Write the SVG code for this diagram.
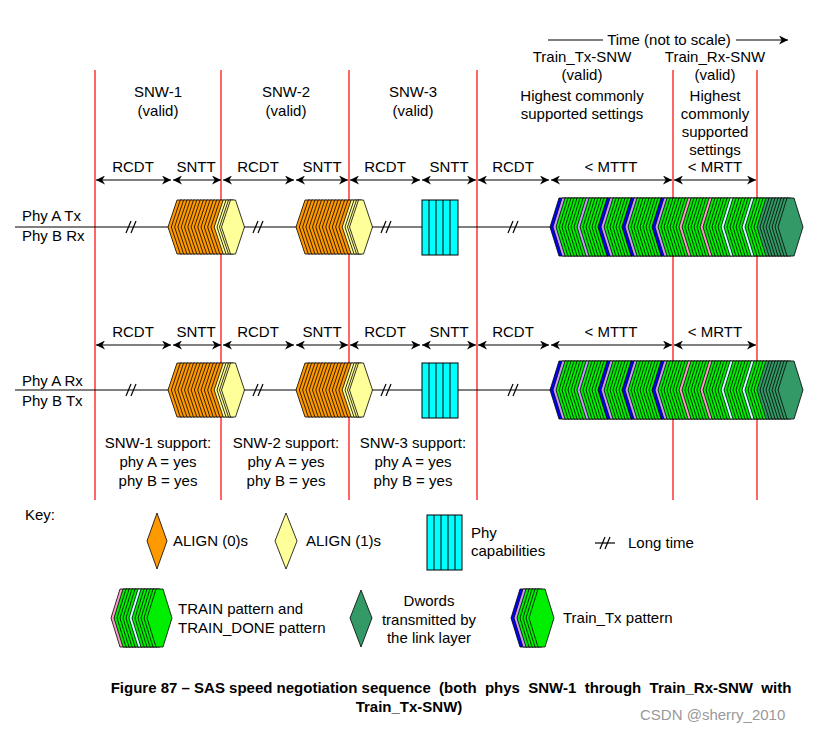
<svg xmlns="http://www.w3.org/2000/svg" xmlns:xlink="http://www.w3.org/1999/xlink" width="838" height="735" viewBox="0 0 838 735">
<style>
text{font-family:"Liberation Sans",Arial,sans-serif;font-size:15px;fill:#000}
.m{text-anchor:middle}
.cap{font-weight:bold;font-size:15px}
.red{stroke:#f33;stroke-width:1.5}
.ln{stroke:#000;stroke-width:1.2;fill:none}
.dim{stroke:#000;stroke-width:1;marker-start:url(#a);marker-end:url(#a)}
.h{stroke:#000;stroke-width:0.8}
</style>
<defs>
<marker id="a" viewBox="0 0 10 10" refX="10" refY="5" markerWidth="9" markerHeight="9" orient="auto-start-reverse" markerUnits="userSpaceOnUse"><path d="M0,0 L10,5 L0,10 L3,5 z" fill="#000"/></marker>
<polygon id="hx" points="0,0 9,-27 14,-27 23,0 14,27 9,27" class="h"/>
<polygon id="hs" points="0,0 9,-29 16,-29 25,0 16,29 9,29" class="h"/>
<g id="lt"><line x1="-4" y1="6" x2="1" y2="-6" class="ln"/><line x1="1" y1="6" x2="6" y2="-6" class="ln"/></g>
<g id="align">
<use href="#hx" x="0" fill="#f90"/><use href="#hx" x="3.3" fill="#f90"/><use href="#hx" x="6.6" fill="#f90"/><use href="#hx" x="9.9" fill="#f90"/><use href="#hx" x="13.2" fill="#f90"/><use href="#hx" x="16.5" fill="#f90"/><use href="#hx" x="19.8" fill="#f90"/><use href="#hx" x="23.1" fill="#f90"/><use href="#hx" x="26.4" fill="#f90"/><use href="#hx" x="29.7" fill="#f90"/><use href="#hx" x="33" fill="#f90"/><use href="#hx" x="36.3" fill="#f90"/><use href="#hx" x="39.6" fill="#f90"/><use href="#hx" x="42.9" fill="#f90"/>
<use href="#hx" x="46.2" fill="#ff9"/><use href="#hx" x="49" fill="#ff9"/><use href="#hx" x="51.5" fill="#ff9"/><use href="#hx" x="53.5" fill="#ff9"/>
</g>
<g id="phy"><rect x="0" y="-27" width="36" height="55" fill="#0ff" stroke="#000"/><path d="M7,-27v55M14,-27v55M21,-27v55M28,-27v55" stroke="#000" fill="none"/></g>
<g id="train">
<use href="#hs" x="0" fill="#00f"/><use href="#hs" x="3" fill="#c9f"/><use href="#hs" x="6" fill="#0e0"/><use href="#hs" x="9" fill="#0e0"/><use href="#hs" x="12" fill="#0e0"/><use href="#hs" x="15" fill="#0e0"/><use href="#hs" x="18" fill="#0e0"/><use href="#hs" x="21" fill="#0e0"/><use href="#hs" x="24" fill="#0e0"/><use href="#hs" x="27" fill="#c9f"/><use href="#hs" x="30" fill="#0e0"/><use href="#hs" x="33" fill="#0e0"/><use href="#hs" x="36" fill="#0e0"/><use href="#hs" x="39" fill="#0e0"/><use href="#hs" x="42" fill="#0e0"/><use href="#hs" x="45" fill="#0e0"/><use href="#hs" x="48" fill="#00f"/><use href="#hs" x="51" fill="#c9f"/><use href="#hs" x="54" fill="#0e0"/><use href="#hs" x="57" fill="#0e0"/><use href="#hs" x="60" fill="#0e0"/><use href="#hs" x="63" fill="#0e0"/><use href="#hs" x="66" fill="#0e0"/><use href="#hs" x="69" fill="#0e0"/><use href="#hs" x="72" fill="#00f"/><use href="#hs" x="75" fill="#c9f"/><use href="#hs" x="78" fill="#0e0"/><use href="#hs" x="81" fill="#0e0"/><use href="#hs" x="84" fill="#0e0"/><use href="#hs" x="87" fill="#0e0"/><use href="#hs" x="90" fill="#0e0"/><use href="#hs" x="93" fill="#0e0"/><use href="#hs" x="96" fill="#0e0"/><use href="#hs" x="99" fill="#0e0"/><use href="#hs" x="102" fill="#00f"/><use href="#hs" x="105" fill="#c9f"/><use href="#hs" x="108" fill="#0e0"/><use href="#hs" x="111" fill="#0e0"/><use href="#hs" x="114" fill="#0e0"/><use href="#hs" x="117" fill="#0e0"/><use href="#hs" x="120" fill="#0e0"/><use href="#hs" x="123" fill="#0e0"/><use href="#hs" x="126" fill="#0e0"/><use href="#hs" x="129" fill="#f9c"/><use href="#hs" x="132" fill="#0e0"/><use href="#hs" x="135" fill="#0e0"/><use href="#hs" x="138" fill="#0e0"/><use href="#hs" x="141" fill="#0e0"/><use href="#hs" x="144" fill="#0e0"/><use href="#hs" x="147" fill="#0e0"/><use href="#hs" x="150" fill="#f9c"/><use href="#hs" x="153" fill="#0e0"/><use href="#hs" x="156" fill="#0e0"/><use href="#hs" x="159" fill="#0e0"/><use href="#hs" x="162" fill="#0e0"/><use href="#hs" x="165" fill="#0e0"/><use href="#hs" x="168" fill="#0e0"/><use href="#hs" x="171" fill="#cff"/><use href="#hs" x="174" fill="#0e0"/><use href="#hs" x="177" fill="#0e0"/><use href="#hs" x="180" fill="#0e0"/><use href="#hs" x="183" fill="#0e0"/><use href="#hs" x="186" fill="#0e0"/><use href="#hs" x="189" fill="#0e0"/><use href="#hs" x="192" fill="#cff"/><use href="#hs" x="195" fill="#0e0"/><use href="#hs" x="198" fill="#0e0"/><use href="#hs" x="201" fill="#0e0"/><use href="#hs" x="204" fill="#0e0"/><use href="#hs" x="207" fill="#396"/><use href="#hs" x="210" fill="#396"/><use href="#hs" x="213" fill="#396"/><use href="#hs" x="216" fill="#396"/><use href="#hs" x="219" fill="#396"/><use href="#hs" x="222" fill="#396"/><use href="#hs" x="225" fill="#396"/><use href="#hs" x="228" fill="#396"/>
</g>
</defs>

<g id="timeaxis"><line x1="548" y1="40" x2="603" y2="40" class="ln"/><line x1="736" y1="40" x2="788" y2="40" class="ln" marker-end="url(#a)"/><text x="669" y="45" class="m">Time (not to scale)</text></g>

<g id="redlines">
<line x1="95" y1="70" x2="95" y2="500" class="red"/><line x1="221" y1="70" x2="221" y2="500" class="red"/><line x1="349" y1="70" x2="349" y2="500" class="red"/><line x1="477" y1="70" x2="477" y2="500" class="red"/><line x1="673" y1="70" x2="673" y2="500" class="red"/><line x1="757" y1="70" x2="757" y2="500" class="red"/>
</g>

<g id="headers">
<text x="158" y="97" class="m">SNW-1</text><text x="158" y="116" class="m">(valid)</text>
<text x="286" y="97" class="m">SNW-2</text><text x="286" y="116" class="m">(valid)</text>
<text x="413" y="97" class="m">SNW-3</text><text x="413" y="116" class="m">(valid)</text>
<text x="582" y="62" class="m">Train_Tx-SNW</text><text x="582" y="80" class="m">(valid)</text><text x="582" y="101" class="m">Highest commonly</text><text x="582" y="119" class="m">supported settings</text>
<text x="715" y="62" class="m">Train_Rx-SNW</text><text x="715" y="80" class="m">(valid)</text><text x="715" y="101" class="m">Highest</text><text x="715" y="119" class="m">commonly</text><text x="715" y="137" class="m">supported</text><text x="715" y="155" class="m">settings</text>
</g>

<g id="connectors">
<g id="dimtop">
<line x1="96" y1="180" x2="171" y2="180" class="dim"/><line x1="173" y1="180" x2="221" y2="180" class="dim"/><line x1="223" y1="180" x2="294" y2="180" class="dim"/><line x1="296" y1="180" x2="348" y2="180" class="dim"/><line x1="350" y1="180" x2="420" y2="180" class="dim"/><line x1="422" y1="180" x2="476" y2="180" class="dim"/><line x1="478" y1="180" x2="549" y2="180" class="dim"/><line x1="551" y1="180" x2="672" y2="180" class="dim"/><line x1="674" y1="180" x2="756" y2="180" class="dim"/>
</g>
<g id="dimbot">
<line x1="96" y1="345" x2="171" y2="345" class="dim"/><line x1="173" y1="345" x2="221" y2="345" class="dim"/><line x1="223" y1="345" x2="294" y2="345" class="dim"/><line x1="296" y1="345" x2="348" y2="345" class="dim"/><line x1="350" y1="345" x2="420" y2="345" class="dim"/><line x1="422" y1="345" x2="476" y2="345" class="dim"/><line x1="478" y1="345" x2="549" y2="345" class="dim"/><line x1="551" y1="345" x2="672" y2="345" class="dim"/><line x1="674" y1="345" x2="756" y2="345" class="dim"/>
</g>
<line x1="15" y1="227" x2="800" y2="227" class="ln"/>
<line x1="15" y1="390" x2="800" y2="390" class="ln"/>
</g>

<g id="dimlabels">
<text x="133" y="172" class="m">RCDT</text><text x="196" y="172" class="m">SNTT</text><text x="258" y="172" class="m">RCDT</text><text x="322" y="172" class="m">SNTT</text><text x="385" y="172" class="m">RCDT</text><text x="449" y="172" class="m">SNTT</text><text x="513" y="172" class="m">RCDT</text><text x="611" y="172" class="m">&lt; MTTT</text><text x="715" y="172" class="m">&lt; MRTT</text>
<text x="133" y="337" class="m">RCDT</text><text x="196" y="337" class="m">SNTT</text><text x="258" y="337" class="m">RCDT</text><text x="322" y="337" class="m">SNTT</text><text x="385" y="337" class="m">RCDT</text><text x="449" y="337" class="m">SNTT</text><text x="513" y="337" class="m">RCDT</text><text x="611" y="337" class="m">&lt; MTTT</text><text x="715" y="337" class="m">&lt; MRTT</text>
</g>

<g id="rowtop">
<text x="22" y="221">Phy A Tx</text><text x="22" y="241">Phy B Rx</text>
<use href="#lt" x="130" y="227"/><use href="#lt" x="257" y="227"/><use href="#lt" x="385" y="227"/><use href="#lt" x="512" y="227"/>
<use href="#align" x="168" y="227"/><use href="#align" x="296" y="227"/>
<use href="#phy" x="422" y="227"/>
<use href="#train" x="550" y="227"/>
</g>
<g id="rowbot">
<text x="22" y="386">Phy A Rx</text><text x="22" y="406">Phy B Tx</text>
<use href="#lt" x="130" y="390"/><use href="#lt" x="257" y="390"/><use href="#lt" x="385" y="390"/><use href="#lt" x="512" y="390"/>
<use href="#align" x="168" y="390"/><use href="#align" x="296" y="390"/>
<use href="#phy" x="422" y="390"/>
<use href="#train" x="550" y="390"/>
</g>

<g id="support">
<text x="158" y="448" class="m">SNW-1 support:</text><text x="158" y="467" class="m">phy A = yes</text><text x="158" y="486" class="m">phy B = yes</text>
<text x="286" y="448" class="m">SNW-2 support:</text><text x="286" y="467" class="m">phy A = yes</text><text x="286" y="486" class="m">phy B = yes</text>
<text x="413" y="448" class="m">SNW-3 support:</text><text x="413" y="467" class="m">phy A = yes</text><text x="413" y="486" class="m">phy B = yes</text>
</g>

<g id="key">
<text x="25" y="520">Key:</text>
<polygon points="157,513 167,541 157,569 147,541" fill="#f90" class="h"/><text x="173" y="546">ALIGN (0)s</text>
<polygon points="286,513 297,541 286,569 275,541" fill="#ff9" class="h"/><text x="306" y="546">ALIGN (1)s</text>
<g transform="translate(427,542)"><rect x="0" y="-27" width="35" height="55" fill="#0ff" stroke="#000"/><path d="M7,-27v55M14,-27v55M21,-27v55M28,-27v55" stroke="#000"/></g>
<text x="471" y="538">Phy</text><text x="471" y="556">capabilities</text>
<use href="#lt" x="604" y="543"/><line x1="595" y1="543" x2="615" y2="543" class="ln"/><text x="628" y="548">Long time</text>
<g transform="translate(111,618)">
<use href="#hs" x="0" fill="#f9c"/><use href="#hs" x="3" fill="#0e0"/><use href="#hs" x="6" fill="#0e0"/><use href="#hs" x="9" fill="#0e0"/><use href="#hs" x="12" fill="#0e0"/><use href="#hs" x="15" fill="#0e0"/><use href="#hs" x="18" fill="#cff"/><use href="#hs" x="21" fill="#0e0"/><use href="#hs" x="24" fill="#0e0"/><use href="#hs" x="27" fill="#0e0"/><use href="#hs" x="30" fill="#0e0"/><use href="#hs" x="33" fill="#0e0"/><use href="#hs" x="36" fill="#0e0"/>
</g>
<text x="178" y="614">TRAIN pattern and</text><text x="178" y="633">TRAIN_DONE pattern</text>
<polygon points="361,590 372,618 361,647 350,618" fill="#396" class="h"/>
<text x="429" y="606" class="m">Dwords</text><text x="429" y="625" class="m">transmitted by</text><text x="429" y="643" class="m">the link layer</text>
<g transform="translate(511,618)">
<use href="#hs" x="0" fill="#00f"/><use href="#hs" x="3" fill="#c9f"/><use href="#hs" x="6" fill="#0e0"/><use href="#hs" x="9" fill="#0e0"/><use href="#hs" x="12" fill="#0e0"/><use href="#hs" x="15" fill="#0e0"/><use href="#hs" x="18" fill="#0e0"/>
</g>
<text x="563" y="623">Train_Tx pattern</text>
</g>

<g id="caption">
<text x="451" y="693" class="m cap" xml:space="preserve">Figure 87 – SAS speed negotiation sequence  (both  phys  SNW-1  through  Train_Rx-SNW  with</text>
<text x="409" y="712" class="m cap">Train_Tx-SNW)</text>
<text x="640" y="720" style="fill:#999;font-size:15px">CSDN @sherry_2010</text>
</g>
</svg>
